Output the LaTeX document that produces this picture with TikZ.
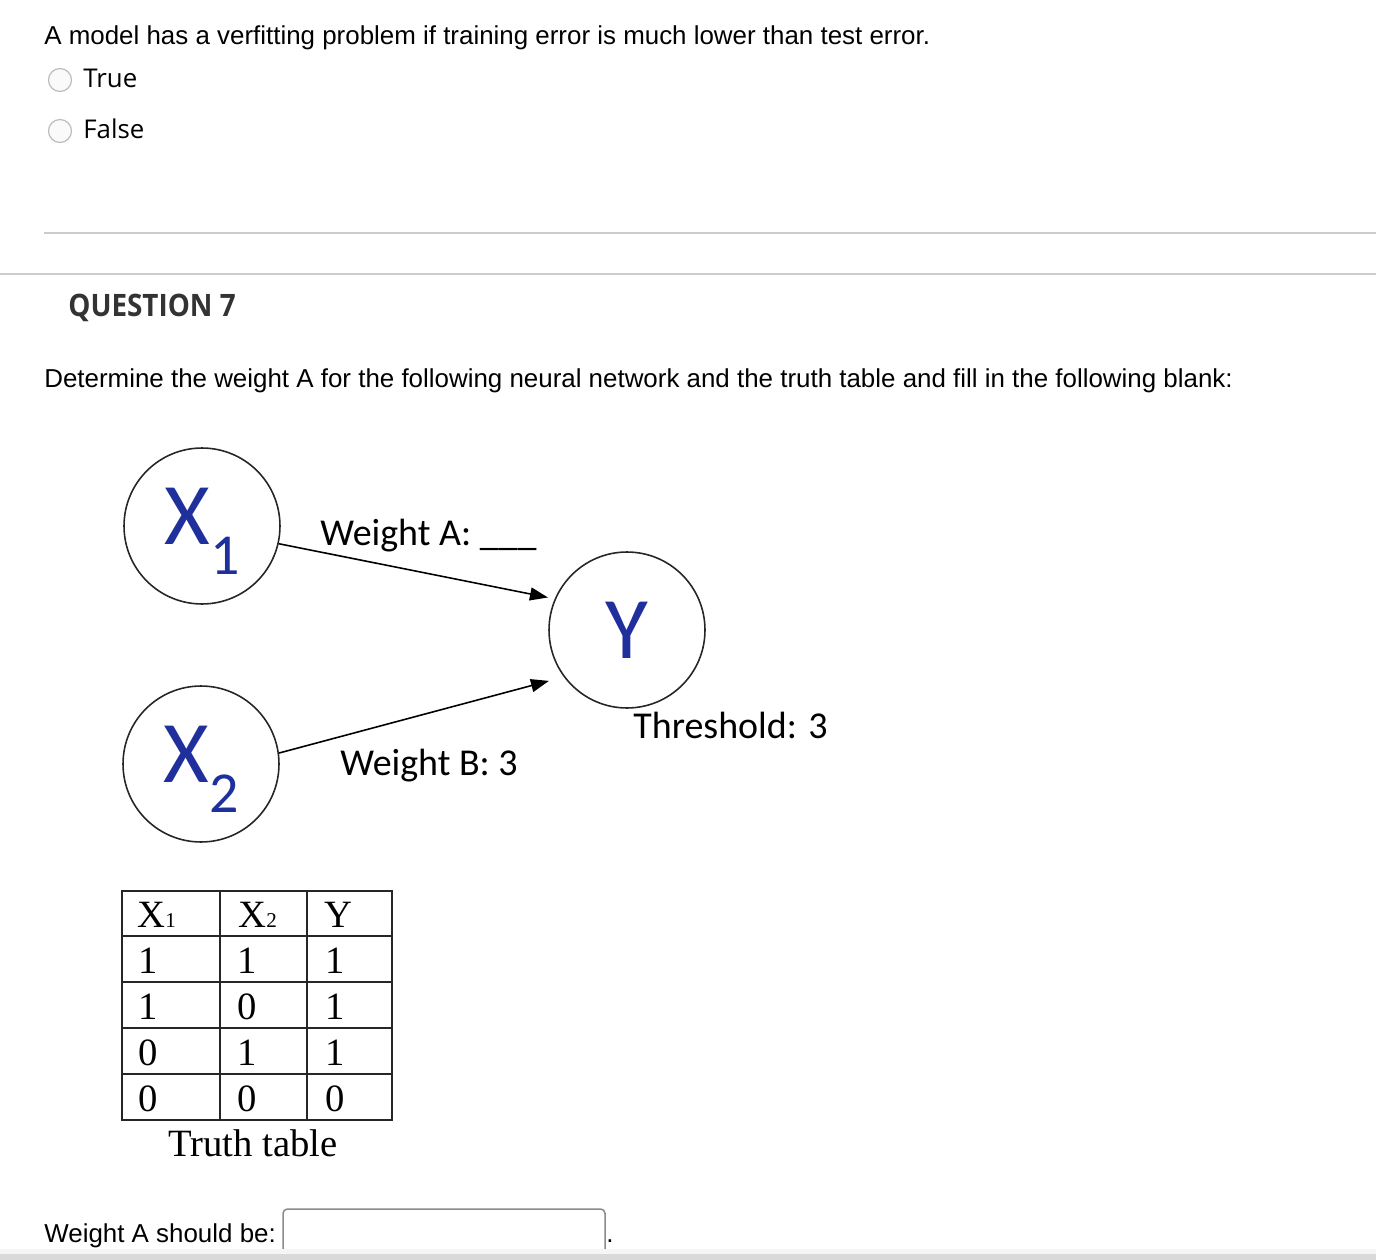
\documentclass[tikz,border=0pt]{standalone}
\usepackage{fontspec}
\setmainfont{Liberation Sans}
\newfontfamily\calfont{Carlito}
\newfontfamily\osfont{Open Sans}
\newfontfamily\tmfont{Liberation Serif}
\usetikzlibrary{arrows.meta,calc}
\definecolor{qzblue}{HTML}{1F2F9C}
\definecolor{qzdark}{HTML}{333333}
\definecolor{qzrule}{HTML}{CCCCCC}
\definecolor{qzring}{HTML}{BDBDBD}
\definecolor{qzbox}{HTML}{8A8A8A}
\newcommand{\nnx}[1]{\fontsize{50}{50}\selectfont X\raisebox{-17pt}{\fontsize{33}{33}\selectfont #1}}
\newcommand{\ttx}[1]{X{\fontsize{12}{12}\selectfont #1}}
\tikzset{
  qtext/.style={anchor=base west,inner sep=0pt,font=\fontsize{14.75}{17}\selectfont},
  opt/.style={anchor=base west,inner sep=0pt,font=\osfont\fontsize{14.7}{17}\selectfont},
  qhead/.style={anchor=base west,inner sep=0pt,text=qzdark,font=\osfont\bfseries\fontsize{17.6}{20}\selectfont},
  radio/.style={circle,draw=qzring,fill=gray!4,line width=0.7pt,minimum size=0.46cm,inner sep=0pt},
  rule/.style={draw=qzrule,line width=1.1pt},
  neuron/.style={circle,draw=black!85,line width=0.9pt,minimum size=3.12cm,inner sep=0pt,
                 text=qzblue,font=\calfont},
  wlab/.style={anchor=base west,inner sep=0pt,font=\calfont\fontsize{21.6}{24}\selectfont},
  wire/.style={-{Triangle[length=3.6mm,width=2.6mm]},line width=0.9pt,black},
  tline/.style={draw=black!85,line width=1.1pt},
  tcell/.style={anchor=base west,inner sep=0pt,font=\tmfont\fontsize{22}{24}\selectfont},
  inbox/.style={draw=qzbox,line width=0.85pt,rounded corners=2.5pt},
}
\begin{document}
\begin{tikzpicture}[x=0.02cm,y=-0.02cm]
  \useasboundingbox (0,0) rectangle (1376,1260);
  % previous question
  \node[qtext] (q6) at (44,45) {A model has a verfitting problem if training error is much lower than test error.};
  \node[radio] (r1) at (60,80) {};
  \node[opt] (o1) at (83,88) {True};
  \node[radio] (r2) at (60,131) {};
  \node[opt] (o2) at (83,139) {False};
  \draw[rule] (44,233) -- (1376,233);
  \draw[rule] (0,274) -- (1376,274);
  % question 7
  \node[qhead] (q7) at (68,317) {\scalebox{0.9}[1]{QUESTION 7}};
  \node[qtext] (ask) at (44,388) {Determine the weight A for the following neural network and the truth table and fill in the following blank:};
  % network
  \node[neuron,text depth=10.6pt] (x1) at (202,526) {\nnx{1}};
  \node[neuron,text depth=10.6pt] (x2) at (201,764) {\nnx{2}};
  \node[neuron] (yy) at (627,630) {\fontsize{50}{50}\selectfont Y};
  \draw[wire] (x1.-13) -- ($(yy.158)+(-6,-3)$);
  \draw[wire] (x2.8) -- ($(yy.213)+(-12,8)$);
  \node[wlab] (wa) at (320,545) {Weight A: \_\_\_};
  \node[wlab] (wb) at (340,775) {Weight B: 3};
  \node[wlab] (th) at (633,738) {Threshold: 3};
  % truth table
  \draw[tline] (122,891) rectangle (392,1120);
  \foreach \cx in {220,307} \draw[tline] (\cx,891) -- (\cx,1120);
  \foreach \ry in {936,982,1028,1074} \draw[tline] (122,\ry) -- (392,\ry);
  \node[tcell] (h1) at (137,927) {\ttx{1}};
  \node[tcell] (h2) at (238,927) {\ttx{2}};
  \node[tcell] (h3) at (324,927) {Y};
  \foreach \a/\b/\c [count=\i] in {1/1/1,1/0/1,0/1/1,0/0/0}
    {\node[tcell] (a\i) at (138,{927+46*\i}) {\a};
     \node[tcell] (b\i) at (237,{927+46*\i}) {\b};
     \node[tcell] (c\i) at (325,{927+46*\i}) {\c};}
  \node[tcell,anchor=base] (cap) at (253,1156) {Truth table};
  % answer blank
  \node[qtext] (ans) at (44,1242) {Weight A should be:};
  \draw[inbox] (283,1209) rectangle (605,1266);
  \node[qtext] (dot) at (606,1242) {.};
  \fill[gray!8] (0,1249) rectangle (1376,1254);
  \fill[gray!30] (0,1254) rectangle (1376,1260);
\end{tikzpicture}
\end{document}
